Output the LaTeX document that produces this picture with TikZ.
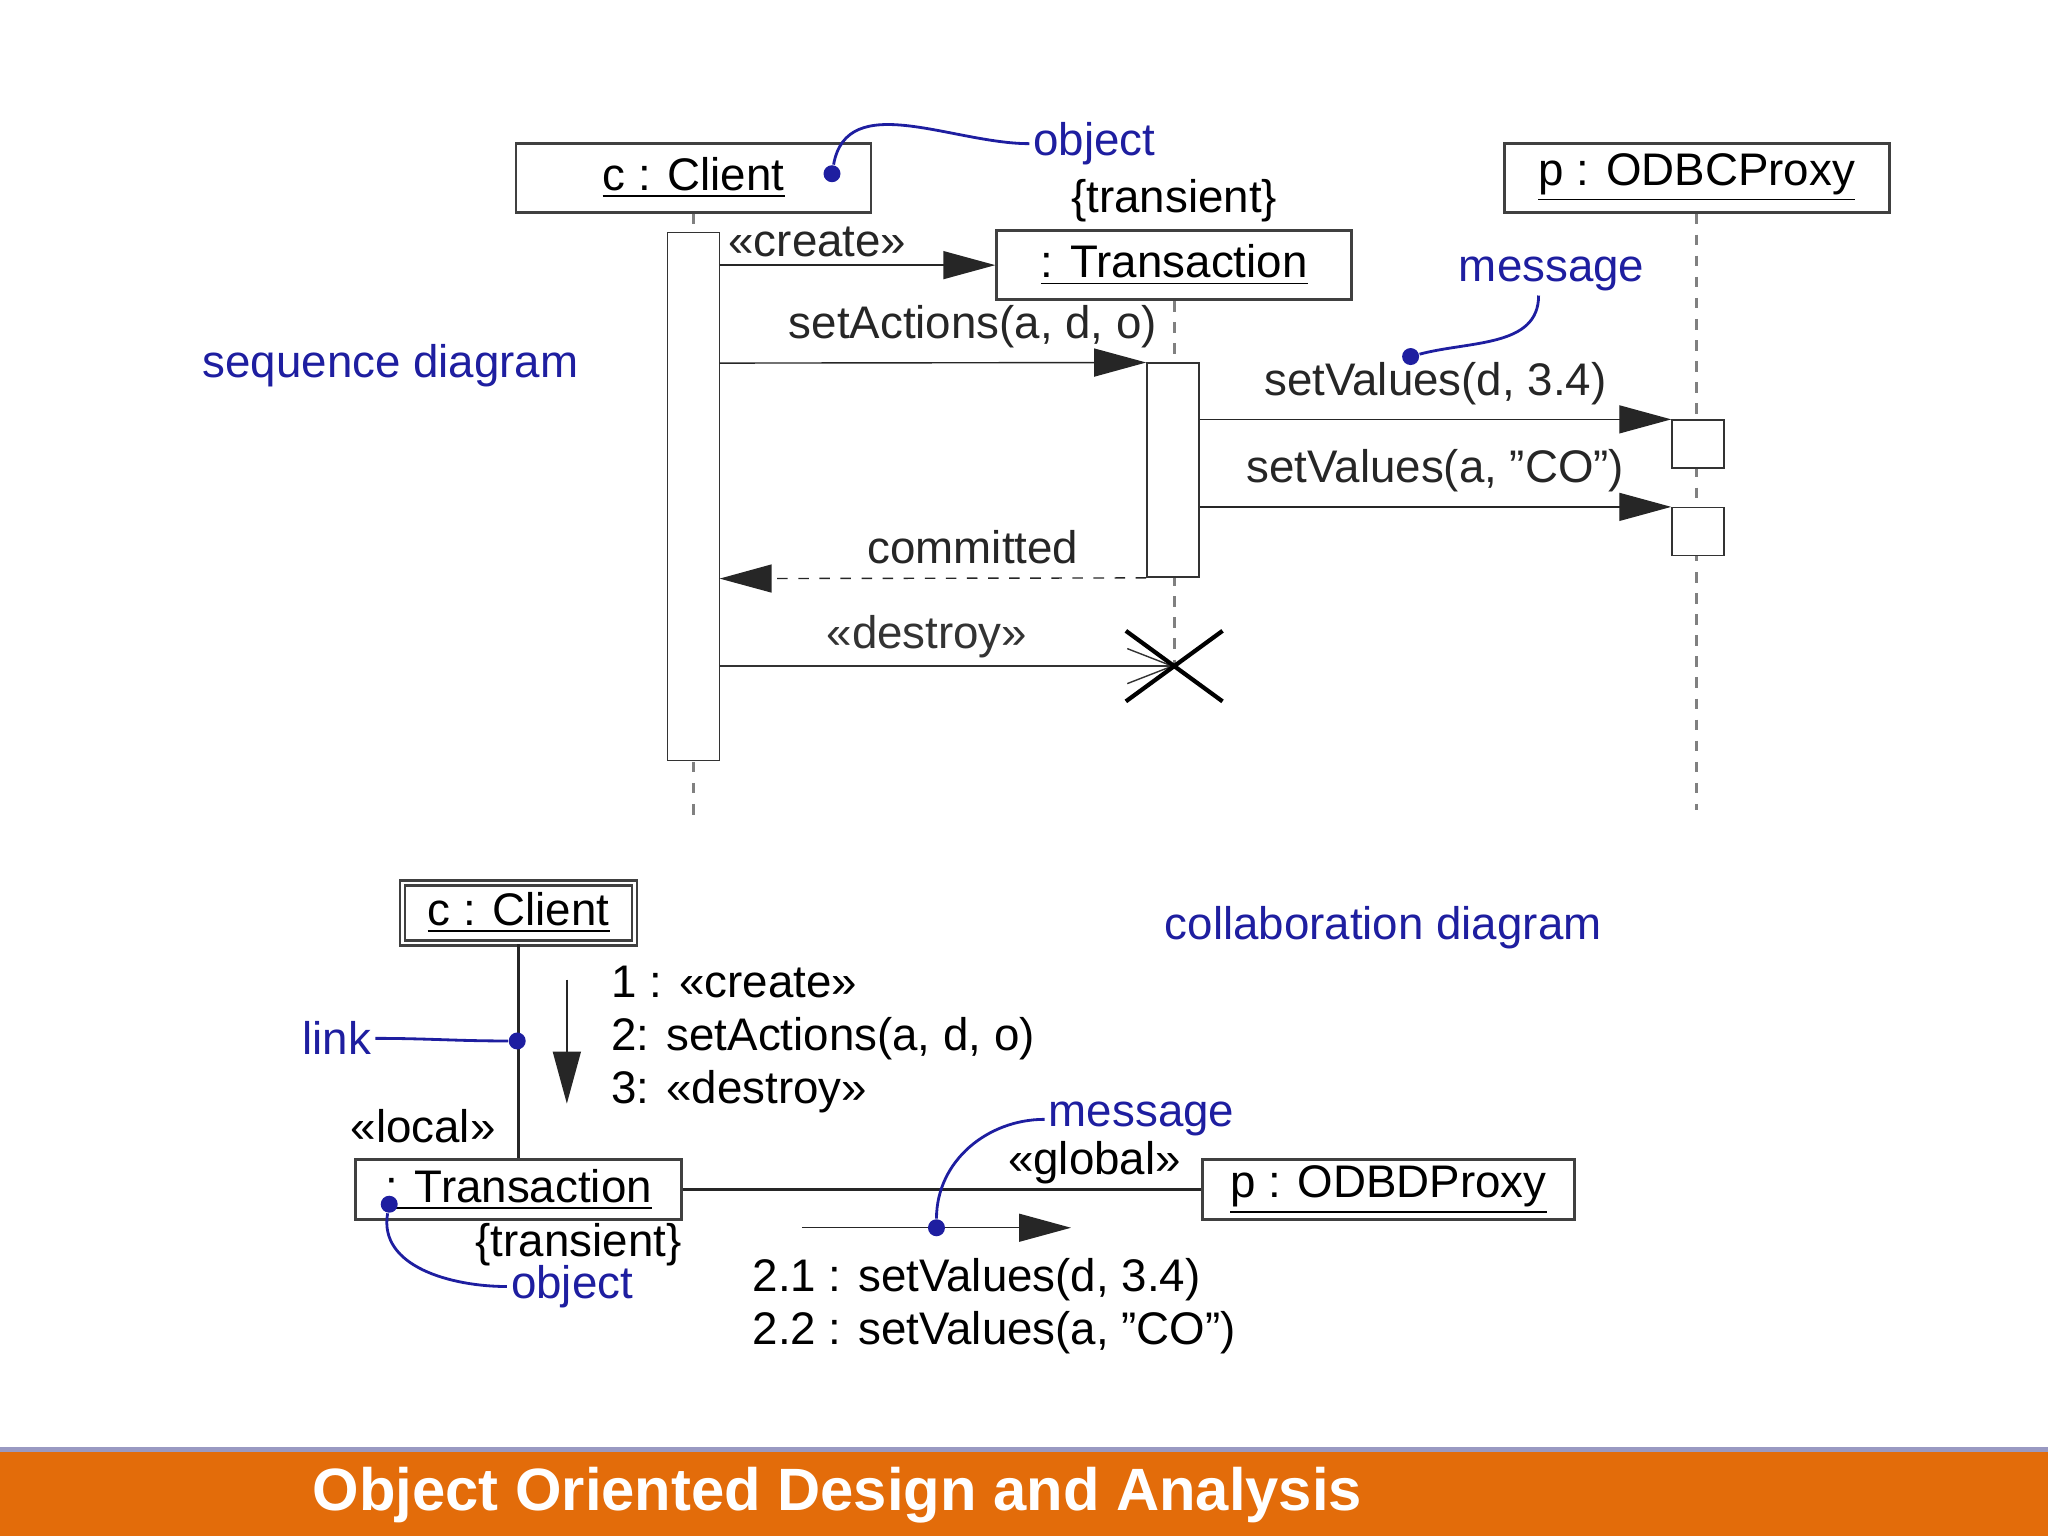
\documentclass[tikz,border=0pt]{standalone}
\usepackage{fontspec}
\setmainfont{Liberation Sans}
\usetikzlibrary{arrows.meta,positioning,shapes,calc}
\definecolor{notecol}{RGB}{30,30,160}
\definecolor{footcol}{RGB}{227,108,10}
\tikzset{
        txt/.style={inner sep=1pt,font=\fontsize{13}{15}\selectfont},
        % Object boxes
        obj/.style={txt,draw=black!75,thick,rectangle},
        % Activation bars
        bar/.style={draw=black!80,fill=white,rectangle,minimum width=0.52cm,inner sep=0pt},
        lifeline/.style={dashed,gray,thick},
        msg/.style={-{Triangle[length=0.52cm,width=0.28cm]},black!85},
        note/.style={txt,notecol},
        notecurve/.style={notecol,thick},
        dot/.style={circle,fill=notecol,inner sep=0pt,minimum size=0.17cm}
}
\begin{document}
\begin{tikzpicture}[x=0.01306cm,y=-0.01306cm]
    \useasboundingbox (0,0) rectangle (1568,1176);
    % sequence diagram
    \node[obj,minimum width=3.55cm,minimum height=0.69cm] (client) at (531,136) {\underline{c : Client}};
    \node[obj,minimum width=3.55cm,minimum height=0.69cm] (trans) at (899,203) {\underline{: Transaction}};
    \node[obj,minimum width=3.85cm,minimum height=0.69cm] (proxy) at (1299,136) {\underline{p : ODBCProxy}};
    \node[txt,above=1pt of trans] (transient) {\{transient\}};
    \coordinate (clientend) at (531,625);
    \coordinate (transend) at (899,510);
    \coordinate (proxyend) at (1299,620);
    \draw[lifeline] (client) -- (clientend);
    \draw[lifeline] (trans) -- (transend);
    \draw[lifeline] (proxy) -- (proxyend);
    \node[bar,minimum height=5.28cm] (cbar) at (531,380) {};
    \node[bar,minimum height=2.14cm] (tbar) at (898,360) {};
    \node[bar,minimum height=0.48cm] (pbar1) at (1300,340) {};
    \node[bar,minimum height=0.48cm] (pbar2) at (1300,407) {};
    \coordinate (c1) at (551,203);
    \coordinate (c2) at (551,278);
    \coordinate (c3) at (551,443);
    \coordinate (c4) at (551,510);
    \draw[msg] (c1) -- (trans.west |- c1) node[txt,midway,above=1pt,xshift=-0.4cm] {«create»};
    \draw[msg] (c2) -- (tbar.north west) node[txt,midway,above=3pt,xshift=0.4cm] {setActions(a, d, o)};
    \draw[msg] (tbar.east |- pbar1.north) -- (pbar1.north west) node[txt,midway,above=3pt] {setValues(d, 3.4)};
    \draw[msg] (tbar.east |- pbar2.north) -- (pbar2.north west) node[txt,midway,above=3pt] {setValues(a, "CO")};
    \draw[msg,dashed] (tbar.south west) -- (c3) node[txt,midway,above=3pt,xshift=0.4cm] {committed};
    \draw[-{Straight Barb[length=0.45cm,width=0.35cm]},black!80] (c4) -- (transend) node[txt,midway,above=1pt,xshift=-0.2cm] {«destroy»};
    \draw[black,very thick] ($(transend)+(-37,-27)$) -- ($(transend)+(37,27)$);
    \draw[black,very thick] ($(transend)+(-37,27)$) -- ($(transend)+(37,-27)$);
    \node[dot] (objdot) at (637,133) {};
    \node[note] (objnote) at (838,110) {object};
    \draw[notecurve] (objdot) to[out=80,in=180] (objnote.west);
    \node[dot] (msgdot) at (1080,273) {};
    \node[note] (msgnote) at (1188,210) {message};
    \draw[notecurve] (msgdot) to[out=15,in=270] ($(msgnote.south)+(-10,0)$);
    \node[note] (seqnote) at (299,280) {sequence diagram};
    % collaboration diagram
    \node[obj,double,minimum width=2.32cm,minimum height=0.6cm] (client2) at (397,699) {\underline{c : Client}};
    \node[obj,minimum width=3.26cm,minimum height=0.6cm] (trans2) at (397,911) {\underline{: Transaction}};
    \node[obj,minimum width=3.72cm,minimum height=0.6cm] (proxy2) at (1063,911) {\underline{p : ODBDProxy}};
    \draw[black!85,thick] (client2) -- (trans2);
    \draw[black!85,thick] (trans2) -- (proxy2);
    \node[txt] (local) at (324,862) {«local»};
    \node[txt] (global) at (838,890) {«global»};
    \node[txt] (transient2) at (443,953) {\{transient\}};
    \coordinate (down1) at (434,750);
    \coordinate (down2) at (434,845);
    \draw[msg] (down1) -- (down2);
    \node[txt,align=left,anchor=west] (msgs1) at (465,796) {1 : «create»\\2: setActions(a, d, o)\\3: «destroy»};
    \coordinate (right1) at (614,940);
    \coordinate (right2) at (820,940);
    \draw[msg] (right1) -- (right2);
    \node[txt,align=left,anchor=west] (msgs2) at (573,1000) {2.1 : setValues(d, 3.4)\\2.2 : setValues(a, "CO")};
    \node[dot] (linkdot) at (396,797) {};
    \node[note] (linknote) at (258,795) {link};
    \draw[notecurve] (linkdot) to[out=180,in=0] (linknote.east);
    \node[dot] (objdot2) at (298,922) {};
    \node[note] (objnote2) at (438,985) {object};
    \draw[notecurve] (objdot2) to[out=260,in=180] (objnote2.west);
    \node[dot] (msgdot2) at (717,940) {};
    \node[note] (msgnote2) at (874,857) {message};
    \draw[notecurve] (msgdot2) to[out=90,in=180] (msgnote2.west);
    \node[note] (collnote) at (1059,710) {collaboration diagram};
    % footer
    \fill[footcol] (0,1110) rectangle (1568,1176);
    \draw[black!60!blue!40,line width=1.5pt] (0,1110) -- (1568,1110);
    \node[anchor=west,white,font=\fontsize{17}{20}\selectfont\bfseries] (title) at (230,1145) {Object Oriented Design and Analysis};
\end{tikzpicture}
\end{document}
